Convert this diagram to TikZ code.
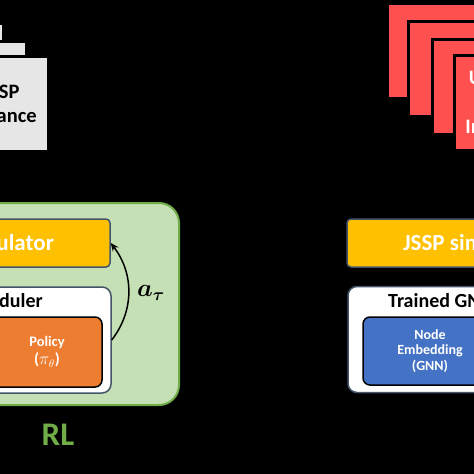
\documentclass[tikz,border=0pt]{standalone}
\usepackage{amsmath}
\usepackage{fontspec}
\setmainfont{Carlito}
\usepackage{xcolor}
\usepackage{tikz}
\usetikzlibrary{positioning, calc, arrows.meta}
\definecolor{cyel}{HTML}{FFC000}
\definecolor{corg}{HTML}{ED7D31}
\definecolor{cblue}{HTML}{4472C4}
\definecolor{cgreen}{HTML}{70AD47}
\definecolor{clgreen}{HTML}{C5E0B4}
\definecolor{cred}{HTML}{FF5050}
\definecolor{cgray}{HTML}{E7E6E6}
\definecolor{cslate}{HTML}{44546A}

\begin{document}
\begin{tikzpicture}[x=1pt, y=-1pt,
  doc/.style={draw=black, line width=3pt, minimum width=94pt, minimum height=95pt,
    inner sep=0pt, align=center, font=\fontsize{20.5}{24.5}\selectfont\bfseries},
  simbox/.style={draw=cslate, line width=1.5pt, fill=cyel, rounded corners=4pt,
    minimum width=250pt, minimum height=48pt, text=white,
    font=\fontsize{23}{27}\selectfont\bfseries},
  schedbox/.style={draw=cslate, line width=1.5pt, fill=white, rounded corners=9pt,
    minimum height=106pt},
  inbox/.style={draw=black, line width=1.5pt, rounded corners=7pt, text=white,
    align=center, inner sep=0pt},
  title/.style={font=\fontsize{20}{24}\selectfont\bfseries, inner sep=0pt},
]

\fill[black] (0,0) rectangle (474,474);
\useasboundingbox (0,0) rectangle (474,474);
\clip (0,0) rectangle (474,474);

% instances
\foreach \i/\x/\y in {1/-67/54, 2/-44/71, 3/-21/89}
  \node[doc, fill=cgray] (gd\i) at (\x,\y) {};
\node[doc, fill=cgray] (gdoc) at (1,104) {JSSP\\Instance};

\foreach \i/\x/\y in {1/434/50.5, 2/455/68.5, 3/479/86.5}
  \node[doc, fill=cred] (rd\i) at (\x,\y) {};
\node[doc, fill=cred, text=white] (rdoc) at (501,102.5) {Unseen\\JSSP\\Instance};

% training
\node[draw=cgreen, line width=2pt, fill=clgreen, rounded corners=20pt,
  minimum width=349pt, minimum height=202pt] (rl) at (4.5,304) {};
\node[simbox] (lsim) at (-15,243) {JSSP simulator};
\node[schedbox, minimum width=251pt] (lsched) at (-14.5,340) {};
\node[title, anchor=east] (ltitle) at (43,301) {Scheduler};
\node[inbox, fill=corg, minimum width=110pt, minimum height=70pt,
  font=\fontsize{14.5}{17}\selectfont\bfseries] (policy) at (47,352)
  {Policy\\[1pt]{\fontsize{16}{18}\selectfont($\pi_\theta$)}};
\draw[line width=1.5pt, -{Stealth[length=8pt, width=7pt]}]
  (lsched.east) .. controls +(23,-30) and +(23,30) .. (lsim.east);
\node[font=\fontsize{25}{28}\selectfont\boldmath] (act) at (151,293) {$a_\tau$};
\node[text=cgreen, font=\fontsize{33}{36}\selectfont\bfseries] (rllab) at (58,435) {RL};

% inference
\node[simbox] (rsim) at (472,243) {JSSP simulator};
\node[schedbox, minimum width=252pt] (rsched) at (474,339.5) {};
\node[title, anchor=west] (rtitle) at (388,301) {Trained GNN Scheduler};
\node[inbox, fill=cblue, minimum width=134pt, minimum height=68pt,
  font=\fontsize{14}{15.5}\selectfont\bfseries] (embed) at (430,351)
  {Node\\Embedding\\(GNN)};

\end{tikzpicture}
\end{document}
